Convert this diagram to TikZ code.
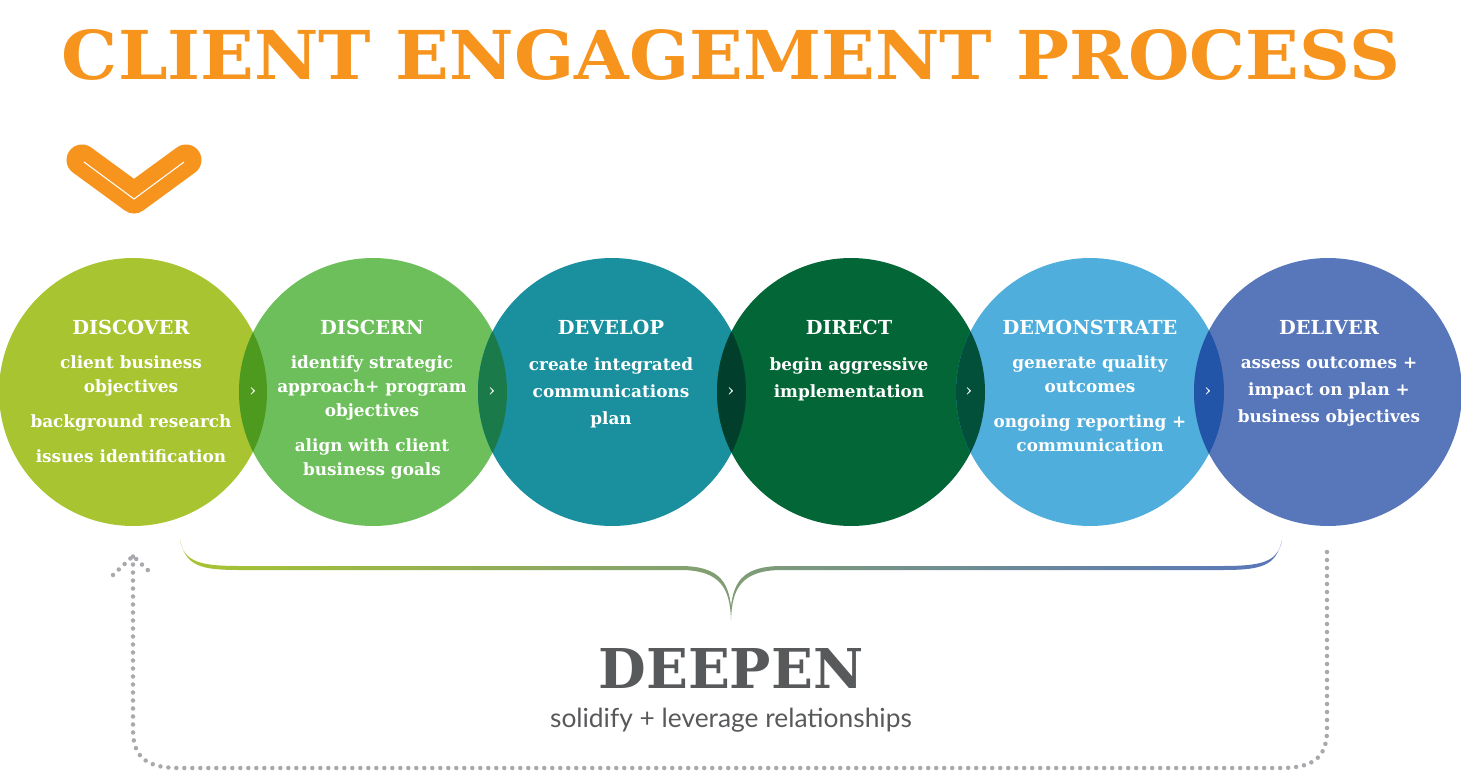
\documentclass[tikz,border=0pt]{standalone}
\usepackage{fontspec}
\setmainfont{DejaVu Serif}
\newfontfamily\lightfont{Lato}
\usetikzlibrary{arrows.meta}
\definecolor{orng}{HTML}{F7941D}
\definecolor{clime}{HTML}{A8C431}
\definecolor{cgrn}{HTML}{6CBF5A}
\definecolor{cteal}{HTML}{1A909E}
\definecolor{cdark}{HTML}{036636}
\definecolor{csky}{HTML}{4FAEDC}
\definecolor{cblue}{HTML}{5876BA}
\definecolor{dgray}{HTML}{58595B}
\definecolor{dotgray}{HTML}{A7A9AC}
\tikzset{
  stage/.style={circle,inner sep=0pt,minimum size=5.36cm,fill=#1},
  head/.style={text=white,font=\bfseries\fontsize{11}{13}\selectfont},
  body/.style={text=white,font=\bfseries\fontsize{9.6}{13.7}\selectfont,align=center,anchor=north},
  arr/.style={text=white,font=\fontsize{10}{12}\selectfont}
}
\begin{document}
\begin{tikzpicture}[x=0.02cm,y=-0.02cm]
    \useasboundingbox (0,0) rectangle (1461,781);
    % title
    \node (title) at (731,55) {\color{orng}\resizebox{26.76cm}{1.0cm}{\bfseries CLIENT ENGAGEMENT PROCESS}};
    % chevron
    \draw[orng,line width=0.62cm,line cap=round,line join=round] (82,160) -- (134,198) -- (186,160);
    \draw[white,line width=0.6pt] (84,162) -- (134,199) -- (184,162);
    % circles
    \foreach \n/\x/\c in {disc/133/clime, dscn/373/cgrn, devl/612/cteal, dirc/851/cdark, demo/1090/csky, delv/1328/cblue}
    \node[stage=\c] (\n) at (\x,392) {};
    % overlaps
    \foreach \a/\b/\c in {disc/dscn/4E9A1E, dscn/devl/1A7A4A, devl/dirc/013F2C, dirc/demo/024F3A, demo/delv/2254A8}
    {
    \begin{scope}
      \clip (\a) circle (134);
      \definecolor{ov}{HTML}{\c}
      \fill[ov] (\b) circle (134);
    \end{scope}
    }
    \foreach \x/\n in {253/a1,492/a2,731/a3,969/a4,1208/a5}
    \node[arr] (\n) at (\x,392) {›};
    % texts
    \node[head] (h1) at (131,327) {DISCOVER};
    \node[body] (b1) at (131,349) {client business\\objectives\\[0.22cm]background research\\[0.22cm]issues identification};
    \node[head] (h2) at (372,327) {DISCERN};
    \node[body] (b2) at (372,349) {identify strategic\\approach+ program\\objectives\\[0.22cm]align with client\\business goals};
    \node[head] (h3) at (611,327) {DEVELOP};
    \node[body,font=\bfseries\fontsize{9.6}{15.4}\selectfont] (b3) at (611,351) {create integrated\\communications\\plan};
    \node[head] (h4) at (849,327) {DIRECT};
    \node[body,font=\bfseries\fontsize{9.6}{15.4}\selectfont] (b4) at (849,351) {begin aggressive\\implementation};
    \node[head] (h5) at (1090,327) {DEMONSTRATE};
    \node[body] (b5) at (1090,349) {generate quality\\outcomes\\[0.22cm]ongoing reporting +\\communication};
    \node[head] (h6) at (1329,327) {DELIVER};
    \node[body,font=\bfseries\fontsize{9.6}{15.4}\selectfont] (b6) at (1329,351) {assess outcomes +\\impact on plan +\\business objectives};
    % brace
    \shade[left color=clime,middle color=cteal,right color=cblue]
      (180,540) .. controls (186,566) and (200,570) .. (240,570) -- (680,570)
      .. controls (722,570) and (730,590) .. (731,620)
      .. controls (732,590) and (740,570) .. (782,570) -- (1222,570)
      .. controls (1262,570) and (1276,566) .. (1282,540)
      .. controls (1278,562) and (1262,566) .. (1222,566) -- (782,566)
      .. controls (745,566) and (734,580) .. (731,606)
      .. controls (728,580) and (717,566) .. (680,566) -- (240,566)
      .. controls (200,566) and (184,562) .. (180,540) -- cycle;
    % deepen
    \node (deep) at (731,668) {\color{dgray}\resizebox{5.3cm}{0.8cm}{\bfseries DEEPEN}};
    \node[text=dgray,font=\lightfont\fontsize{15}{18}\selectfont] (sub) at (731,720) {solidify + leverage relationships};
    % loop back
    \coordinate (ls) at (1327,552);
    \coordinate (le) at (133,556);
    \draw[dotgray,line width=0.09cm,line cap=round,dash pattern=on 0pt off 0.16cm]
      (ls) -- (1327,730) .. controls (1327,760) and (1310,768) .. (1280,768) -- (180,768)
      .. controls (150,768) and (133,760) .. (133,730) -- (le);
    \draw[dotgray,line width=0.09cm,line cap=round,dash pattern=on 0pt off 0.16cm]
      (113,575) -- (le) -- (153,575);
\end{tikzpicture}
\end{document}
